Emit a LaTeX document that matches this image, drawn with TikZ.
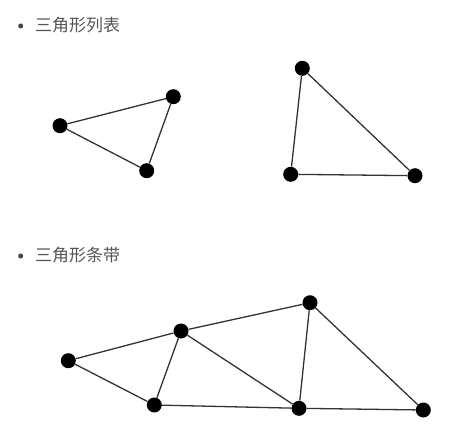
\documentclass[tikz,border=0pt]{standalone}
\usepackage{fontspec}
\newfontfamily\cjk{Noto Sans CJK SC}
\definecolor{txtgray}{HTML}{555555}
\definecolor{edgegray}{HTML}{333333}
\begin{document}
\begin{tikzpicture}[x=1bp,y=-1bp,
  vert/.style={circle,fill=black,minimum size=15bp,inner sep=0pt},
  edge/.style={draw=edgegray,line width=1.3bp},
  bulletdot/.style={circle,fill=txtgray!80!black,minimum size=5bp,inner sep=0pt},
  heading/.style={anchor=west,inner sep=0pt,text=txtgray,font=\cjk\fontsize{17bp}{20bp}\selectfont}]
\useasboundingbox (0,0) rectangle (474,445);
% headings
\node[bulletdot] (b1) at (20.7,26) {};
\node[heading] (h1) at (35,25) {三角形列表};
\node[bulletdot] (b2) at (20.7,256) {};
\node[heading] (h2) at (35,255) {三角形条带};
% triangle list
\node[vert] (a1) at (60,125.7) {};
\node[vert] (a2) at (173.3,96.7) {};
\node[vert] (a3) at (146.7,170.7) {};
\node[vert] (t1) at (302.3,68.3) {};
\node[vert] (t2) at (290.7,174.3) {};
\node[vert] (t3) at (415,175.7) {};
\draw[edge] (a1) -- (a2) -- (a3) -- (a1);
\draw[edge] (t1) -- (t2) -- (t3) -- (t1);
% triangle strip
\node[vert] (p1) at (68.3,360.7) {};
\node[vert] (p2) at (181,331) {};
\node[vert] (p3) at (154.3,405) {};
\node[vert] (p4) at (310,302.7) {};
\node[vert] (p5) at (299,408.3) {};
\node[vert] (p6) at (423.3,410) {};
\draw[edge] (p1) -- (p2);
\draw[edge] (p1) -- (p3);
\draw[edge] (p2) -- (p3);
\draw[edge] (p2) -- (p5);
\draw[edge] (p3) -- (p5);
\draw[edge] (p2) -- (p4);
\draw[edge] (p4) -- (p5);
\draw[edge] (p4) -- (p6);
\draw[edge] (p5) -- (p6);
\end{tikzpicture}
\end{document}
